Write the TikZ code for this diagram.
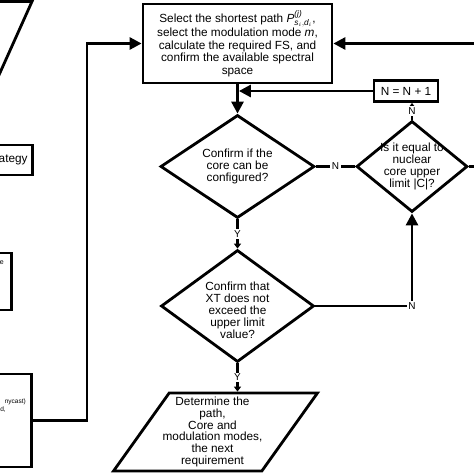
\documentclass[tikz,border=0pt]{standalone}
\usepackage{amsmath}
\usepackage{fontspec}
\setmainfont{Liberation Sans}
\usetikzlibrary{arrows.meta,positioning,shapes.geometric}

\tikzset{
  box/.style={draw,line width=2.8pt,align=center,inner sep=4pt},
  decision/.style={draw,diamond,line width=2.8pt,inner sep=2pt},
  yn/.style={fill=white,inner sep=1.5pt,font=\fontsize{10}{10}\selectfont},
  flow/.style={line width=2.8pt},
  big/.style={-{Triangle[length=12pt,width=12pt]}},
  small/.style={-{Triangle[length=5pt,width=7pt]}},
}

\begin{document}
\begin{tikzpicture}[x=1pt,y=-1pt,font=\fontsize{11.8}{12.1}\selectfont]
  \useasboundingbox (0,0) rectangle (474,474);
  \clip (0,0) rectangle (474,474);
  % main column
  \node[box,minimum width=189pt,minimum height=79pt,font=\fontsize{11.8}{12.5}\selectfont] (sel) at (237.5,43.5) {Select the shortest path $\textit{P}^{\textit{(j)}}_{\textit{s}_i,\textit{d}_i}$,\\select the modulation mode \textit{m},\\calculate the required FS, and\\confirm the available spectral\\space};
  \node[decision,minimum width=154pt,minimum height=103pt,below=29.2pt of sel] (conf) {};
  \node[align=center] (conftxt) at (conf.center) {Confirm if the\\core can be\\configured?};
  \node[decision,minimum width=111pt,minimum height=91pt,right=39.2pt of conf] (lim) {};
  \node[align=center] (limtxt) at (lim.center) {Is it equal to\\nuclear\\core upper\\limit |C|?};
  \node[box,minimum width=64pt,minimum height=21pt,inner sep=2pt] (inc) at (406,91) {N = N + 1};
  \node[decision,minimum width=153pt,minimum height=112pt,below=29.2pt of conf] (xt) {};
  \node[align=center] (xttxt) at ([yshift=-4pt]xt.center) {Confirm that\\XT does not\\exceed the\\upper limit\\value?};
  \node[draw,trapezium,trapezium left angle=59,trapezium right angle=121,trapezium stretches=true,line width=2.8pt,minimum width=204pt,minimum height=78pt,inner sep=2pt,below=28.2pt of xt,xshift=-22pt] (det) {};
  \node[align=center,font=\fontsize{11.8}{11.8}\selectfont] (dettxt) at ([xshift=-3pt]det.center) {Determine the\\path,\\Core and\\modulation modes,\\the next\\requirement};
  \node[yn] (n3) at (lim.south |- xt.east) {N};

  \draw[flow,big] (sel) -- (conf);
  \draw[flow,big,shorten >=1.4pt] (inc) -- (sel.south |- inc);
  \draw[flow] (conf) -- node[yn] {N} (lim);
  \draw[flow,small] (lim.north) -- node[yn] {N} (lim.north |- inc.south);
  \draw[flow] (xt) -- (n3);
  \draw[flow,big] (n3) -- (lim);
  \draw[flow,small] (conf) -- node[yn] {Y} (xt);
  \draw[flow,small] (xt.south) -- node[yn] {Y} (xt.south |- det.north);
  \draw[flow,big] (lim.east) -- ++(30,0) |- (sel.east);

  % cut-off blocks on the left
  \draw[flow] (-40,1.5) -- (32,1.5) -- (-10,95);
  \node[box,anchor=east,minimum width=70pt,minimum height=30pt,text width=60pt,align=right] (strat) at (34,160) {ategy};
  \node[box,anchor=east,minimum width=60pt,minimum height=57pt] (cfg) at (13,281.5) {};
  \node[anchor=east,inner sep=0pt,font=\fontsize{7}{8}\selectfont] (cfgtxt) at (4,263) {e};
  \node[box,anchor=east,minimum width=80pt,minimum height=93pt] (req) at (33,420.5) {};
  \node[anchor=east,inner sep=0pt,font=\fontsize{6.5}{7}\selectfont] (reqa) at (26,402) {nycast)};
  \node[anchor=east,inner sep=0pt,font=\fontsize{6.5}{7}\selectfont] (reqb) at (6,410) {d,};
  \draw[flow,big] (req.east) -- ++(54,0) |- (sel.west);
\end{tikzpicture}
\end{document}
